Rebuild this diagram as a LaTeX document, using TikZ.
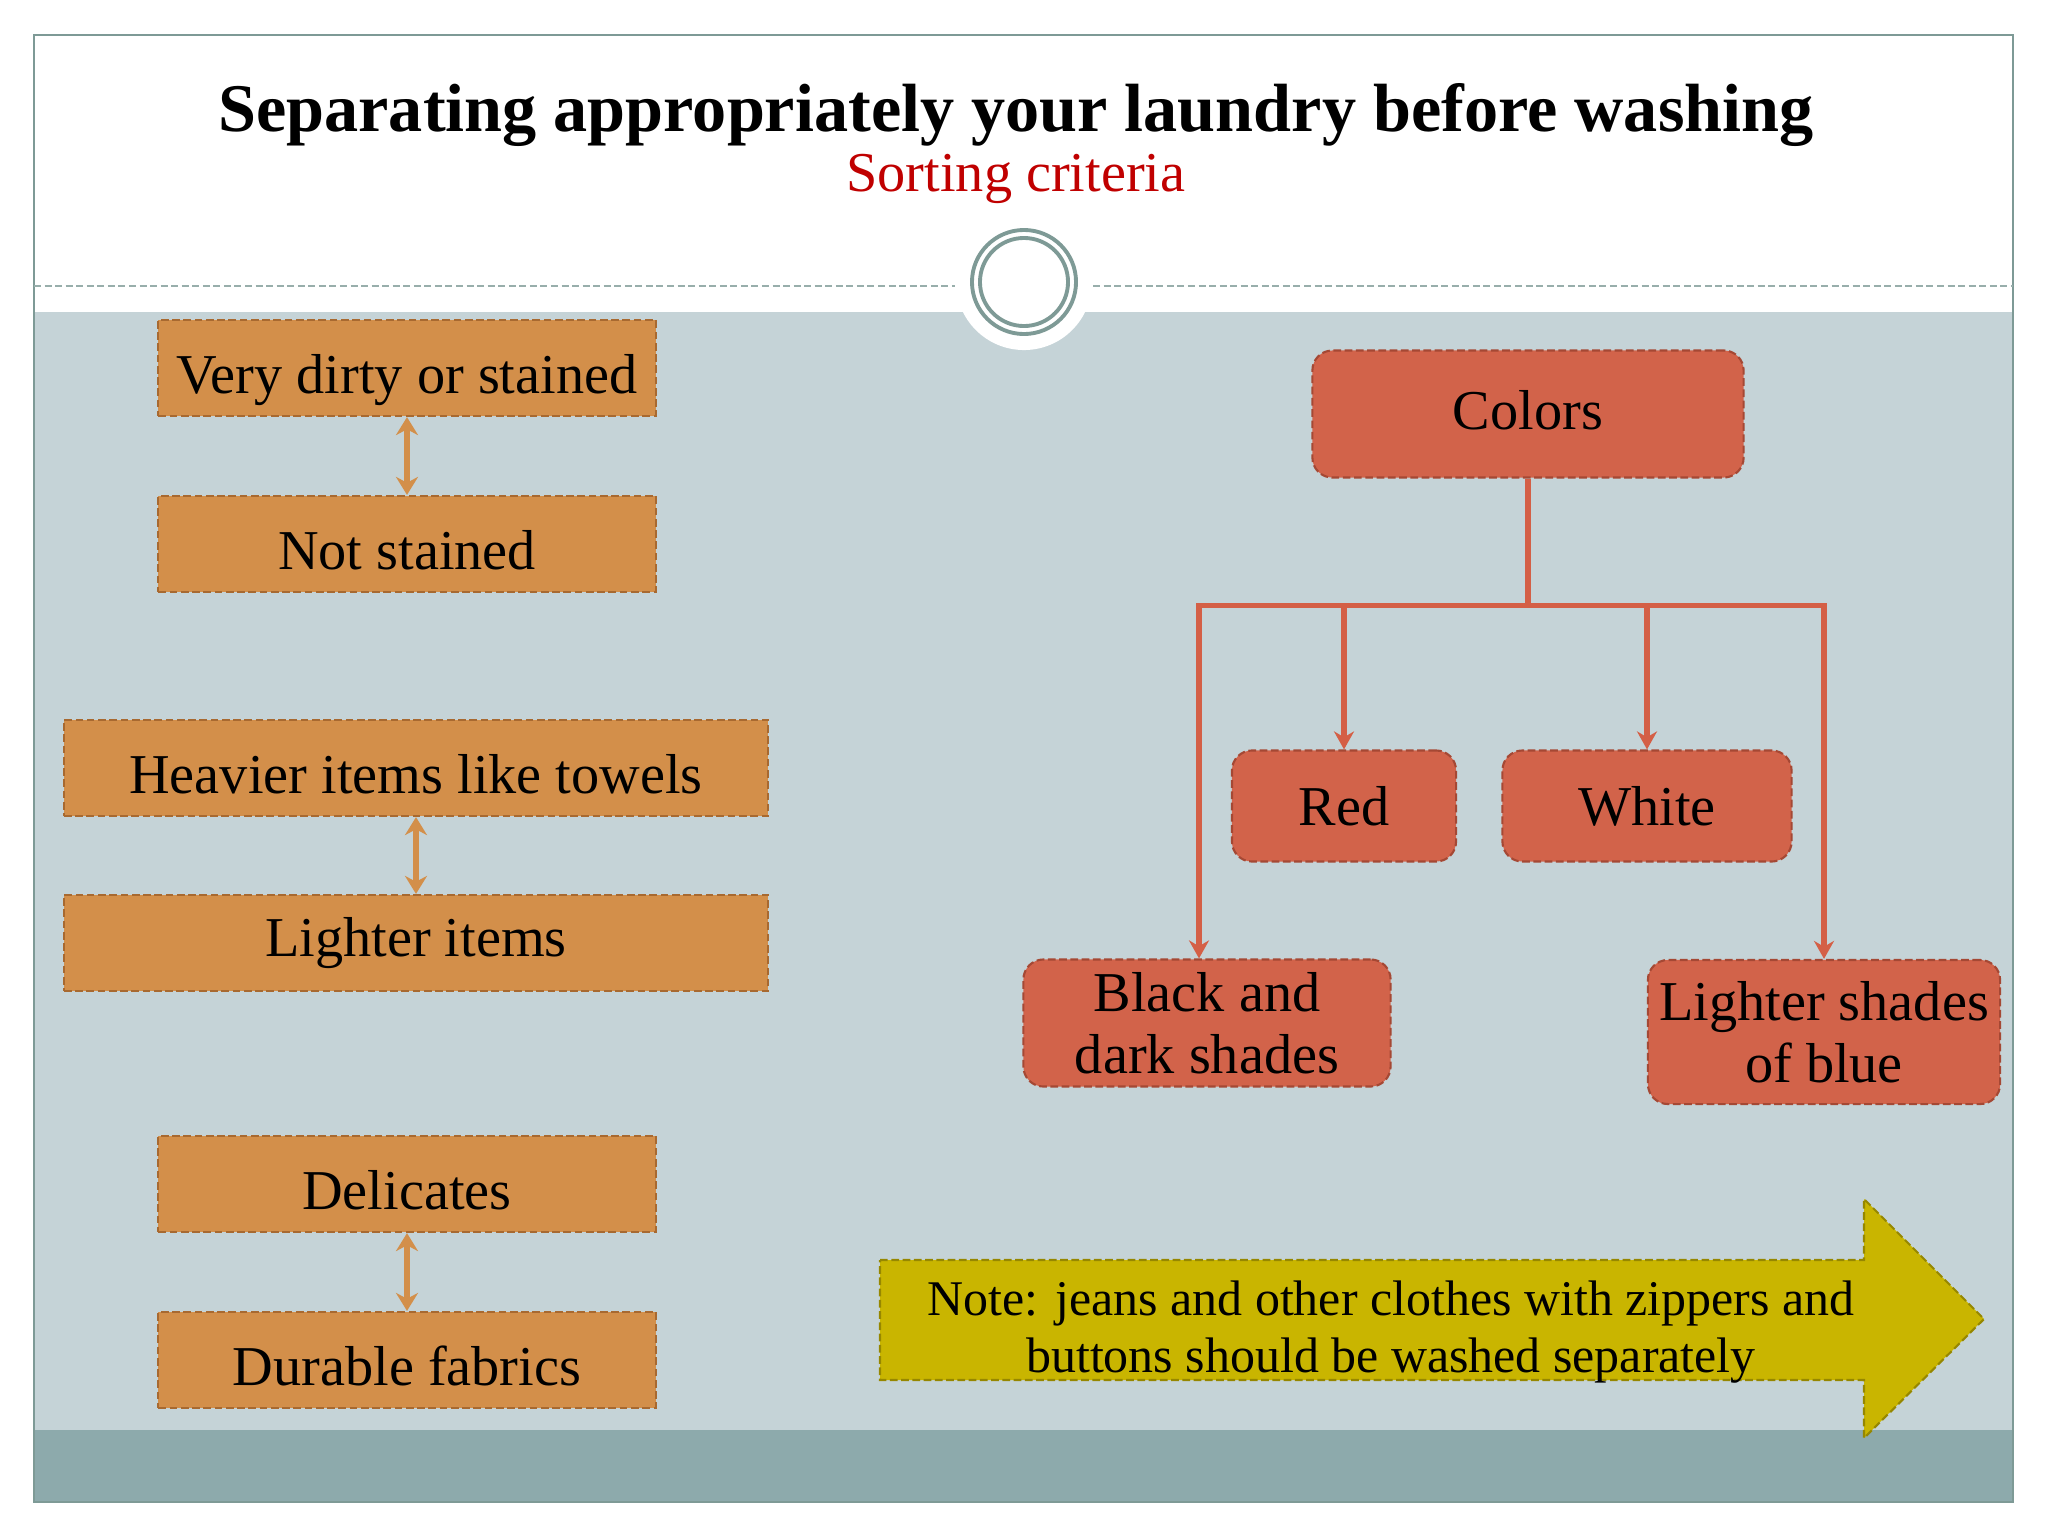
\documentclass[tikz,border=0pt]{standalone}
\usepackage{fontspec}
\setmainfont{Liberation Serif}
\usepackage{tikz}
\usetikzlibrary{arrows,arrows.meta,positioning}
\definecolor{frm}{RGB}{126,154,150}
\definecolor{body}{RGB}{197,211,215}
\definecolor{band}{RGB}{141,170,172}
\definecolor{orfill}{RGB}{211,143,74}
\definecolor{ordraw}{RGB}{168,105,48}
\definecolor{rdfill}{RGB}{210,99,74}
\definecolor{rddraw}{RGB}{165,72,52}
\definecolor{rdline}{RGB}{212,95,70}
\definecolor{ylfill}{RGB}{201,181,0}
\definecolor{yldraw}{RGB}{150,135,0}
\definecolor{subred}{RGB}{192,0,0}
\tikzstyle{o} = [rectangle, fill=orfill, draw=ordraw, dash pattern=on 2.2pt off 1pt, line width=0.6pt, align=center, inner sep=0pt, text height=14.4pt, text depth=0pt, font=\fontsize{16}{17.5}\selectfont]
\tikzstyle{r} = [rectangle, rounded corners=0.2cm, fill=rdfill, draw=rddraw, dash pattern=on 2.2pt off 1pt, line width=0.6pt, align=center, inner sep=0pt, font=\fontsize{16}{17.5}\selectfont]
\tikzstyle{h} = [rdline, line width=1.5pt, -{Stealth[length=0.18cm,width=0.2cm]}]
\tikzstyle{d} = [orfill, line width=1.5pt, {Stealth[length=0.18cm,width=0.22cm]}-{Stealth[length=0.18cm,width=0.22cm]}]

\begin{document}
\begin{tikzpicture}[x=0.01cm,y=-0.01cm]
		\useasboundingbox (0,0) rectangle (2048,1536);
		\fill[white] (0,0) rectangle (2048,1536);

		% slide background
		\fill[body] (34,312) rectangle (2013,1430);
		\fill[band] (34,1430) rectangle (2013,1502);
		\draw[frm, line width=0.8pt] (34,35) rectangle (2013,1502);
		\draw[frm!80, line width=0.4pt, dash pattern=on 2pt off 1pt] (34,286) -- (955,286);
		\draw[frm!80, line width=0.4pt, dash pattern=on 2pt off 1pt] (1093,286) -- (2013,286);
		\fill[white] (1024,282) circle [radius=0.68cm];
		\draw[frm, line width=1.1pt] (1024,282) circle [radius=0.52cm];
		\draw[frm, line width=1.1pt] (1024,282) circle [radius=0.44cm];

		\node (title) at (1016,115) {\fontsize{19.4}{21}\selectfont\bfseries Separating appropriately your laundry before washing};
		\node (sub) at (1016,179) [text=subred] {\fontsize{16}{18}\selectfont Sorting criteria};

		\begin{scope}[every node/.style={o, minimum height=0.96cm}]
			\node (vd) at (407,368) [minimum width=4.97cm] {Very dirty or stained};
			\node (ns) at (407,544) [minimum width=4.97cm] {Not stained};

			\node (hi) at (416,768) [minimum width=7.04cm] {Heavier items like towels};
			\node (li) at (416,943) [minimum width=7.04cm, text height=11pt, text depth=3.5pt] {Lighter items};

			\node (de) at (407,1184) [minimum width=4.97cm] {Delicates};
			\node (df) at (407,1360) [minimum width=4.97cm] {Durable fabrics};
		\end{scope}

		\draw[d] (vd) -- (ns);
		\draw[d] (hi) -- (li);
		\draw[d] (de) -- (df);

		\node (col) at (1528,414) [r, minimum width=4.31cm, minimum height=1.27cm, text height=9pt, text depth=0pt] {Colors};
		\node (red) at (1344,806) [r, minimum width=2.24cm, minimum height=1.11cm] {Red};
		\node (wht) at (1647,806) [r, minimum width=2.89cm, minimum height=1.11cm] {White};
		\node (blk) at (1207,1023) [r, minimum width=3.67cm, minimum height=1.27cm] {Black and\\dark shades};
		\node (blu) at (1824,1032) [r, minimum width=3.52cm, minimum height=1.44cm] {Lighter shades\\of blue};

		\path (col.south) ++(0,127) coordinate (j);
		\draw[h, -] (col.south) -- (j);
		\draw[h] (j) -| ([xshift=-0.08cm]blk.north);
		\draw[h] (j) -| (red.north);
		\draw[h] (j) -| (wht.north);
		\draw[h] (j) -| (blu.north);

		% note arrow
		\draw[fill=ylfill, draw=yldraw, line width=0.6pt, dash pattern=on 2.2pt off 1pt] (880,1260) -- (1864,1260) -- (1864,1199) -- (1984,1319) -- (1864,1438) -- (1864,1380) -- (880,1380) -- cycle;
		\node (note) at (1391,1332) [align=center, font=\fontsize{14.2}{16}\selectfont] {Note: jeans and other clothes with zippers and\\buttons should be washed separately};
	\end{tikzpicture}
\end{document}
